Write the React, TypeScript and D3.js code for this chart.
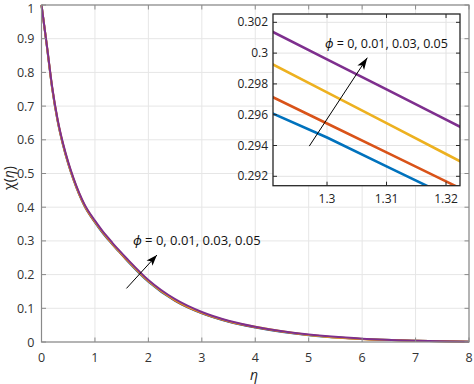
import React from "react"
import * as d3 from "d3"

// eta grid shared by all four curves (dense near 1.3 for the zoomed inset)
const eta = [0, 0.1, 0.2, 0.3, 0.4, 0.5, 0.6, 0.8, 1.0, 1.15, 1.29, 1.3, 1.31, 1.32, 1.33, 1.45, 1.6, 2.0, 2.5, 3.0, 3.5, 4.0, 5.0, 6.0, 7.0, 8.0]

const chiPhi0 = [1, 0.878, 0.752, 0.657, 0.586, 0.529, 0.481, 0.405, 0.355, 0.3225, 0.29623, 0.29452, 0.29265, 0.29078, 0.28892, 0.268, 0.242, 0.179, 0.122, 0.085, 0.06, 0.043, 0.02, 0.009, 0.004, 0.001]
const chiPhi001 = [1, 0.879, 0.753, 0.658, 0.587, 0.53, 0.482, 0.406, 0.356, 0.3236, 0.29731, 0.29543, 0.29355, 0.29167, 0.28979, 0.2688, 0.243, 0.18, 0.123, 0.086, 0.061, 0.044, 0.021, 0.009, 0.004, 0.001]
const chiPhi003 = [1, 0.88, 0.755, 0.66, 0.589, 0.532, 0.484, 0.408, 0.358, 0.3257, 0.29945, 0.29745, 0.29545, 0.29345, 0.29145, 0.2705, 0.245, 0.182, 0.125, 0.087, 0.062, 0.045, 0.021, 0.009, 0.004, 0.001]
const chiPhi005 = [1, 0.881, 0.757, 0.662, 0.591, 0.534, 0.486, 0.41, 0.36, 0.3278, 0.30155, 0.29959, 0.29764, 0.29568, 0.29373, 0.2725, 0.247, 0.184, 0.127, 0.089, 0.063, 0.045, 0.022, 0.01, 0.004, 0.001]

const series = [chiPhi0, chiPhi001, chiPhi003, chiPhi005]
const colors = ["#0072BD", "#D95319", "#EDB120", "#7E2F8E"]

const mainXTicks = [0, 1, 2, 3, 4, 5, 6, 7, 8]
const mainYTicks = [0, 0.1, 0.2, 0.3, 0.4, 0.5, 0.6, 0.7, 0.8, 0.9, 1]
const insetXTicks = [1.3, 1.31, 1.32]
const insetYTicks = [0.292, 0.294, 0.296, 0.298, 0.3, 0.302]

const font = "'Open Sans', 'Noto Sans', sans-serif"

function arrowHead(x1: number, y1: number, x2: number, y2: number, len: number, wid: number) {
  const a = Math.atan2(y2 - y1, x2 - x1)
  const bx = x2 - len * Math.cos(a)
  const by = y2 - len * Math.sin(a)
  const px = Math.sin(a) * wid / 2
  const py = -Math.cos(a) * wid / 2
  return `M${x2},${y2}L${bx + px},${by + py}L${bx + len * 0.25 * Math.cos(a)},${by + len * 0.25 * Math.sin(a)}L${bx - px},${by - py}Z`
}

export default function App() {
  const x = d3.scaleLinear().domain([0, 8]).range([41.5, 469])
  const y = d3.scaleLinear().domain([0, 1]).range([342, 5])

  const ix = d3.scaleLinear().domain([1.29092, 1.32235]).range([273, 460])
  const iy = d3.scaleLinear().domain([0.29139, 0.30254]).range([185.7, 14])

  const mainLine = (vals: number[]) =>
    d3.line<number>().x((_, i) => x(eta[i])).y(d => y(d)).curve(d3.curveMonotoneX)(vals) || ""
  const insetLine = (vals: number[]) =>
    d3.line<number>().x((_, i) => ix(eta[i])).y(d => iy(d))(vals) || ""

  const [x0, x1] = x.range()
  const [y0, y1] = y.range()
  const [ix0, ix1] = ix.range()
  const [iy0, iy1] = iy.range()

  // arrows, in data coordinates
  const ma = { tx: x(1.59), ty: y(0.159), hx: x(2.16), hy: y(0.258) }
  const ia = { tx: ix(1.29702), ty: iy(0.29396), hx: ix(1.30677), hy: iy(0.2997) }

  return (
    <svg width={474} height={384} style={{ position: "absolute", left: 0, top: 0, background: "#fff" }} fontFamily={font}>
      {/* main grid */}
      {mainXTicks.map(t => (
        <line key={"gx" + t} x1={x(t)} x2={x(t)} y1={y1} y2={y0} stroke="#e6e6e6" strokeWidth={1} />
      ))}
      {mainYTicks.map(t => (
        <line key={"gy" + t} x1={x0} x2={x1} y1={y(t)} y2={y(t)} stroke="#e6e6e6" strokeWidth={1} />
      ))}

      {series.map((s, i) => (
        <path key={"m" + i} d={mainLine(s)} fill="none" stroke={colors[i]} strokeWidth={2} />
      ))}

      {/* main frame + ticks */}
      <rect x={x0} y={y1} width={x1 - x0} height={y0 - y1} fill="none" stroke="#8a8a8a" strokeWidth={1.2} />
      {mainXTicks.map(t => (
        <g key={"tx" + t}>
          <line x1={x(t)} x2={x(t)} y1={y0} y2={y0 - 4.5} stroke="#8a8a8a" />
          <line x1={x(t)} x2={x(t)} y1={y1} y2={y1 + 4.5} stroke="#8a8a8a" />
          <text x={x(t)} y={y0 + 20} textAnchor="middle" fontSize={12.5} fill="#333">{t}</text>
        </g>
      ))}
      {mainYTicks.map(t => (
        <g key={"ty" + t}>
          <line x1={x0} x2={x0 + 4.5} y1={y(t)} y2={y(t)} stroke="#8a8a8a" />
          <line x1={x1} x2={x1 - 4.5} y1={y(t)} y2={y(t)} stroke="#8a8a8a" />
          <text x={x0 - 7} y={Math.max(y(t) + 4.5, 13)} textAnchor="end" fontSize={12.5} fill="#333">{t}</text>
        </g>
      ))}
      <text x={254} y={380} textAnchor="middle" fontSize={14} fontStyle="italic" fill="#222">η</text>
      <text transform="translate(14,178) rotate(-90)" textAnchor="middle" fontSize={14} fill="#222">
        χ(<tspan fontStyle="italic">η</tspan>)
      </text>

      {/* main annotation */}
      <text x={x(1.71)} y={y(0.288)} fontSize={13} fill="#111">
        <tspan fontStyle="italic">ϕ</tspan> = 0, 0.01, 0.03, 0.05
      </text>
      <line x1={ma.tx} y1={ma.ty} x2={ma.hx} y2={ma.hy} stroke="#000" strokeWidth={1} />
      <path d={arrowHead(ma.tx, ma.ty, ma.hx, ma.hy, 11, 8)} fill="#000" />

      {/* inset */}
      <rect x={ix0} y={iy1} width={ix1 - ix0} height={iy0 - iy1} fill="#fff" />
      <clipPath id="insetClip">
        <rect x={ix0} y={iy1} width={ix1 - ix0} height={iy0 - iy1} />
      </clipPath>
      {insetXTicks.map(t => (
        <line key={"igx" + t} x1={ix(t)} x2={ix(t)} y1={iy1} y2={iy0} stroke="#e3e3e3" />
      ))}
      {insetYTicks.map(t => (
        <line key={"igy" + t} x1={ix0} x2={ix1} y1={iy(t)} y2={iy(t)} stroke="#e3e3e3" />
      ))}
      <g clipPath="url(#insetClip)">
        {series.map((s, i) => (
          <path key={"i" + i} d={insetLine(s)} fill="none" stroke={colors[i]} strokeWidth={2.6} />
        ))}
      </g>
      <rect x={ix0} y={iy1} width={ix1 - ix0} height={iy0 - iy1} fill="none" stroke="#262626" strokeWidth={1.3} />
      {insetXTicks.map(t => (
        <g key={"itx" + t}>
          <line x1={ix(t)} x2={ix(t)} y1={iy0} y2={iy0 - 4} stroke="#262626" />
          <line x1={ix(t)} x2={ix(t)} y1={iy1} y2={iy1 + 4} stroke="#262626" />
          <text x={ix(t)} y={iy0 + 17} textAnchor="middle" fontSize={12} fill="#222">{t}</text>
        </g>
      ))}
      {insetYTicks.map(t => (
        <g key={"ity" + t}>
          <line x1={ix0} x2={ix0 + 4} y1={iy(t)} y2={iy(t)} stroke="#262626" />
          <line x1={ix1} x2={ix1 - 4} y1={iy(t)} y2={iy(t)} stroke="#262626" />
          <text x={ix0 - 5} y={iy(t) + 4} textAnchor="end" fontSize={12} fill="#222">{t}</text>
        </g>
      ))}
      <text x={ix(1.29966)} y={iy(0.30033)} fontSize={12.5} fill="#111">
        <tspan fontStyle="italic">ϕ</tspan> = 0, 0.01, 0.03, 0.05
      </text>
      <line x1={ia.tx} y1={ia.ty} x2={ia.hx} y2={ia.hy} stroke="#000" strokeWidth={1} />
      <path d={arrowHead(ia.tx, ia.ty, ia.hx, ia.hy, 12, 8)} fill="#000" />
    </svg>
  )
}
